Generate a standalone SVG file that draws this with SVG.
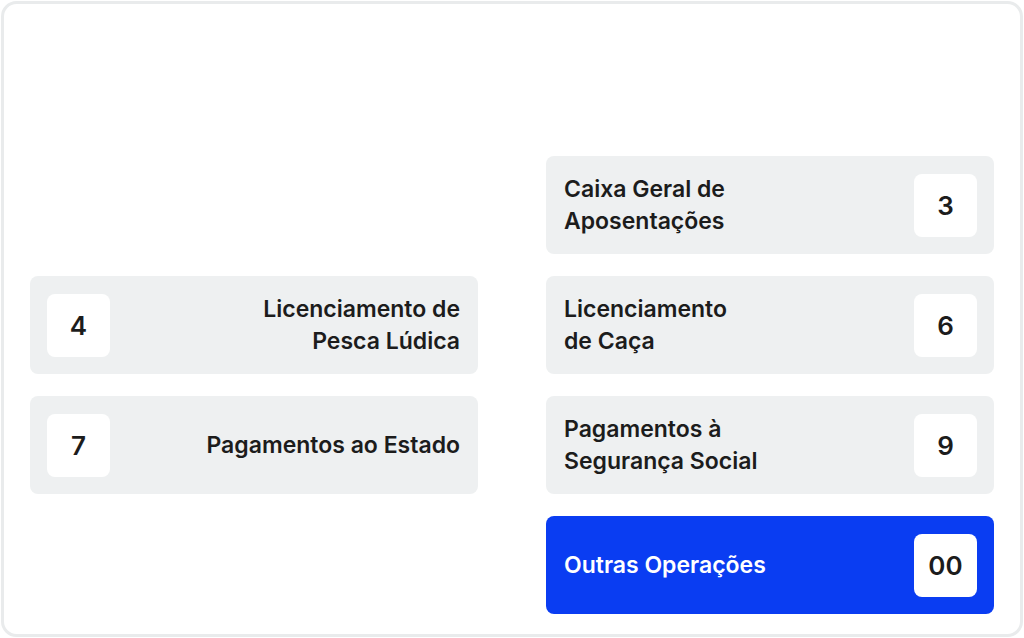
<svg xmlns="http://www.w3.org/2000/svg" width="1024" height="638" viewBox="0 0 1024 638">
<style>
.card{fill:#eef0f1}
.tile{fill:#ffffff}
.t{font-family:Inter,"Open Sans",sans-serif;font-size:23px;font-weight:600;fill:#1c1c1c}
.n{font-family:Inter,"Open Sans",sans-serif;font-size:26px;font-weight:600;fill:#1c1c1c;text-anchor:middle}
.r{text-anchor:end}
</style>
<rect x="2.5" y="2.5" width="1019" height="633" rx="14" fill="#ffffff" stroke="#e9ebec" stroke-width="3"/>
<g id="caixa">
<rect class="card" x="546" y="156" width="448" height="98" rx="8"/>
<rect class="tile" x="914" y="174" width="63" height="63" rx="8"/>
<text class="t" x="564" y="197">Caixa Geral de</text>
<text class="t" x="564" y="229">Aposentações</text>
<text class="n" x="945.5" y="215">3</text>
</g>
<g id="pesca">
<rect class="card" x="30" y="276" width="448" height="98" rx="8"/>
<rect class="tile" x="47" y="294" width="63" height="63" rx="8"/>
<text class="t r" x="460" y="317">Licenciamento de</text>
<text class="t r" x="460" y="349">Pesca Lúdica</text>
<text class="n" x="78.5" y="335">4</text>
</g>
<g id="caca">
<rect class="card" x="546" y="276" width="448" height="98" rx="8"/>
<rect class="tile" x="914" y="294" width="63" height="63" rx="8"/>
<text class="t" x="564" y="317">Licenciamento</text>
<text class="t" x="564" y="349">de Caça</text>
<text class="n" x="945.5" y="335">6</text>
</g>
<g id="estado">
<rect class="card" x="30" y="396" width="448" height="98" rx="8"/>
<rect class="tile" x="47" y="414" width="63" height="63" rx="8"/>
<text class="t r" x="460" y="453">Pagamentos ao Estado</text>
<text class="n" x="78.5" y="455">7</text>
</g>
<g id="seguranca">
<rect class="card" x="546" y="396" width="448" height="98" rx="8"/>
<rect class="tile" x="914" y="414" width="63" height="63" rx="8"/>
<text class="t" x="564" y="437">Pagamentos à</text>
<text class="t" x="564" y="469">Segurança Social</text>
<text class="n" x="945.5" y="455">9</text>
</g>
<g id="outras">
<rect x="546" y="516" width="448" height="98" rx="8" fill="#0a3df2"/>
<rect class="tile" x="914" y="534" width="63" height="63" rx="8"/>
<text class="t" x="564" y="573" style="fill:#ffffff">Outras Operações</text>
<text class="n" x="945.5" y="575">00</text>
</g>
<g id="connectors"/>
</svg>
